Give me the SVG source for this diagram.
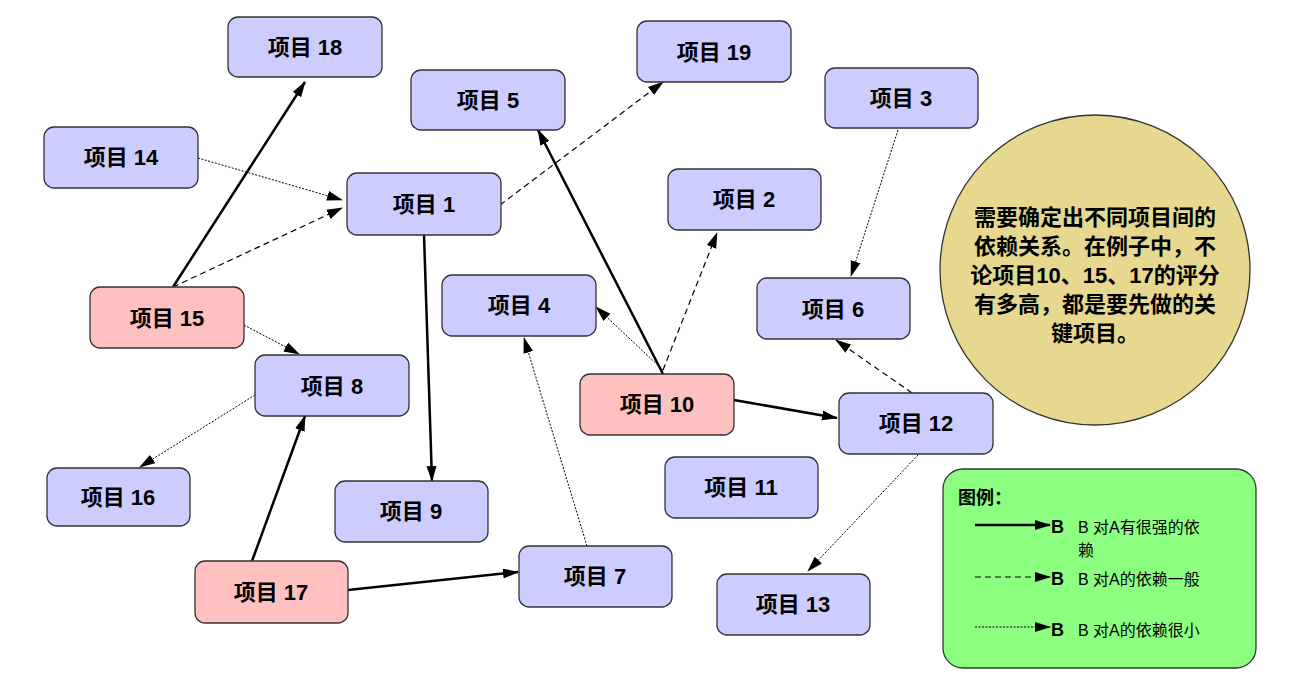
<svg xmlns="http://www.w3.org/2000/svg" width="1310" height="697" viewBox="0 0 1310 697">
<style>
.n rect{fill:#ccccff;stroke:#333;stroke-width:1.3}
.p rect{fill:#ffc0c0}
.n text{font-family:"Liberation Sans","Noto Sans CJK SC",sans-serif;font-weight:bold;font-size:22px;text-anchor:middle;fill:#000}
.c line{stroke:#000;fill:none}
.s{stroke-width:2.5}
.d{stroke-width:1.2;stroke-dasharray:6 4}
.t{stroke-width:1;stroke-dasharray:2 1.5}
.cj{font-family:"Liberation Sans","Noto Sans CJK SC",sans-serif}
</style>
<defs>
<marker id="a" markerUnits="userSpaceOnUse" markerWidth="16" markerHeight="12" refX="15" refY="6" orient="auto"><path d="M0,1 L16,6 L0,11 Z" fill="#000"/></marker>
</defs>
<rect width="1310" height="697" fill="#fff"/>
<g class="c">
<line class="s" x1="173" y1="287" x2="305" y2="82" marker-end="url(#a)"/>
<line class="d" x1="173" y1="287" x2="342" y2="208" marker-end="url(#a)"/>
<line class="t" x1="198" y1="158" x2="342" y2="200" marker-end="url(#a)"/>
<line class="t" x1="244" y1="325" x2="299" y2="354" marker-end="url(#a)"/>
<line class="s" x1="424" y1="235" x2="432" y2="481" marker-end="url(#a)"/>
<line class="d" x1="500" y1="205" x2="663" y2="82" marker-end="url(#a)"/>
<line class="s" x1="663" y1="374" x2="538" y2="130" marker-end="url(#a)"/>
<line class="d" x1="663" y1="370" x2="717" y2="233" marker-end="url(#a)"/>
<line class="t" x1="663" y1="370" x2="596" y2="307" marker-end="url(#a)"/>
<line class="s" x1="734" y1="400" x2="837" y2="418" marker-end="url(#a)"/>
<line class="t" x1="898" y1="130" x2="851" y2="276" marker-end="url(#a)"/>
<line class="d" x1="912" y1="393" x2="836" y2="340" marker-end="url(#a)"/>
<line class="t" x1="918" y1="455" x2="808" y2="571" marker-end="url(#a)"/>
<line class="t" x1="255" y1="395" x2="140" y2="467" marker-end="url(#a)"/>
<line class="s" x1="252" y1="561" x2="305" y2="416" marker-end="url(#a)"/>
<line class="s" x1="348" y1="590" x2="518" y2="572" marker-end="url(#a)"/>
<line class="t" x1="587" y1="546" x2="524" y2="338" marker-end="url(#a)"/>
</g>
<g id="n18" class="n"><rect x="228" y="17" width="154" height="60" rx="10"/><text x="305" y="55">项目 18</text></g>
<g id="n19" class="n"><rect x="637" y="21" width="154" height="61" rx="10"/><text x="714" y="60">项目 19</text></g>
<g id="n5" class="n"><rect x="411" y="70" width="154" height="60" rx="10"/><text x="488" y="108">项目 5</text></g>
<g id="n3" class="n"><rect x="825" y="68" width="153" height="60" rx="10"/><text x="901" y="106">项目 3</text></g>
<g id="n14" class="n"><rect x="44" y="127" width="154" height="61" rx="10"/><text x="121" y="165">项目 14</text></g>
<g id="n1" class="n"><rect x="347" y="173" width="154" height="62" rx="10"/><text x="424" y="212">项目 1</text></g>
<g id="n2" class="n"><rect x="668" y="169" width="153" height="61" rx="10"/><text x="744" y="207">项目 2</text></g>
<g id="n4" class="n"><rect x="442" y="275" width="154" height="61" rx="10"/><text x="519" y="313">项目 4</text></g>
<g id="n6" class="n"><rect x="757" y="278" width="153" height="61" rx="10"/><text x="833" y="317">项目 6</text></g>
<g id="n15" class="n p"><rect x="90" y="287" width="154" height="61" rx="10"/><text x="167" y="326">项目 15</text></g>
<g id="n8" class="n"><rect x="255" y="355" width="154" height="61" rx="10"/><text x="332" y="394">项目 8</text></g>
<g id="n10" class="n p"><rect x="580" y="374" width="154" height="61" rx="10"/><text x="657" y="412">项目 10</text></g>
<g id="n12" class="n"><rect x="839" y="393" width="154" height="61" rx="10"/><text x="916" y="431">项目 12</text></g>
<g id="n11" class="n"><rect x="665" y="457" width="153" height="61" rx="10"/><text x="741" y="495">项目 11</text></g>
<g id="n16" class="n"><rect x="47" y="468" width="143" height="58" rx="10"/><text x="118" y="505">项目 16</text></g>
<g id="n9" class="n"><rect x="335" y="481" width="153" height="61" rx="10"/><text x="411" y="519">项目 9</text></g>
<g id="n7" class="n"><rect x="519" y="546" width="153" height="61" rx="10"/><text x="595" y="584">项目 7</text></g>
<g id="n17" class="n p"><rect x="195" y="561" width="153" height="62" rx="10"/><text x="271" y="600">项目 17</text></g>
<g id="n13" class="n"><rect x="717" y="574" width="153" height="61" rx="10"/><text x="793" y="612">项目 13</text></g>
<g id="note">
<ellipse cx="1095" cy="270" rx="155" ry="155" fill="#e6d88f" stroke="#333" stroke-width="1.3"/>
<g class="cj" font-size="22" font-weight="bold" text-anchor="middle">
<text x="1095" y="225">需要确定出不同项目间的</text>
<text x="1095" y="254">依赖关系。在例子中，不</text>
<text x="1095" y="283">论项目10、15、17的评分</text>
<text x="1095" y="312">有多高，都是要先做的关</text>
<text x="1095" y="341">键项目。</text>
</g>
</g>
<g id="legend">
<rect x="943" y="469" width="313" height="199" rx="20" fill="#8cff80" stroke="#333" stroke-width="1.3"/>
<text class="cj" x="958" y="504" font-size="18" font-weight="bold">图例：</text>
<line class="s" x1="975" y1="525" x2="1050" y2="525" stroke="#000" marker-end="url(#a)"/>
<line class="d" x1="975" y1="577" x2="1050" y2="577" stroke="#000" marker-end="url(#a)"/>
<line class="t" x1="975" y1="627" x2="1050" y2="627" stroke="#000" marker-end="url(#a)"/>
<g class="cj" font-size="18" font-weight="bold"><text x="1051" y="533">B</text><text x="1051" y="585">B</text><text x="1051" y="636">B</text></g>
<g class="cj" font-size="16"><text x="1078" y="533">B 对A有很强的依</text><text x="1078" y="556">赖</text><text x="1078" y="585">B 对A的依赖一般</text><text x="1078" y="636">B 对A的依赖很小</text></g>
</g>
</svg>
